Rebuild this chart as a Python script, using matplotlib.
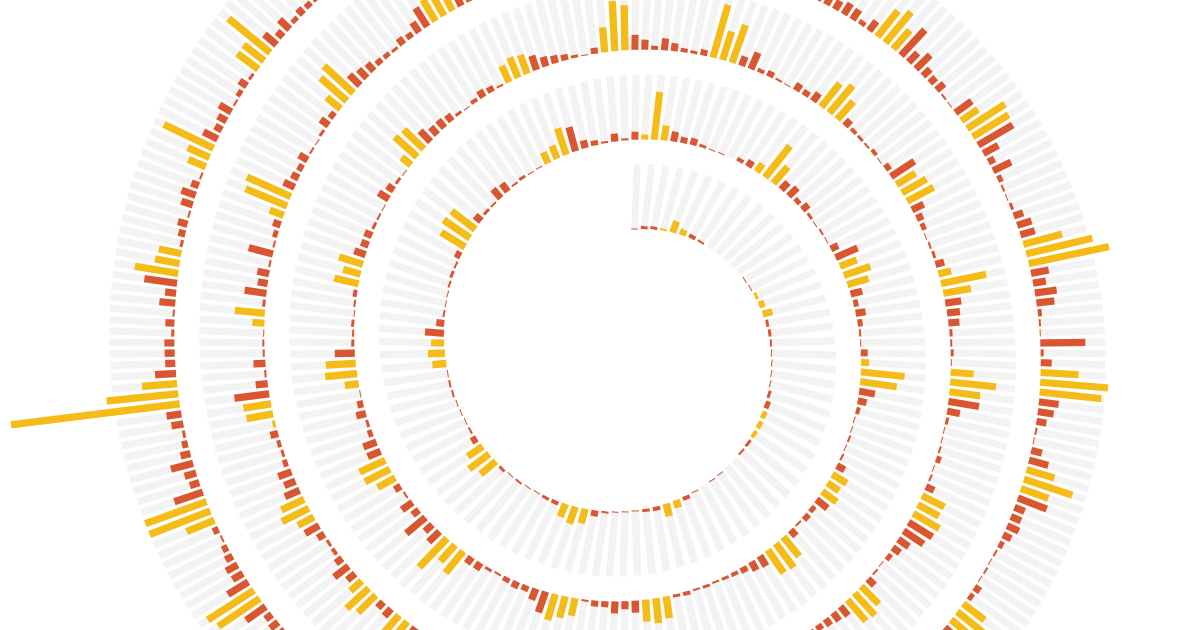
import numpy as np
import matplotlib
matplotlib.use("Agg")
import matplotlib.pyplot as plt
from matplotlib.collections import PolyCollection

# Spiral bar data: one list per turn, one string per 45-degree octant (clockwise from top).
# token = kind (r = red, y = yellow) + bar length in px
turn0 = [
    "r1 r3 r3 y2 y12 y6 r4 r2 r0 r0",
    "r0 r0 r0 r1 r1 y3 y6 y10 r3 r3 r2",
    "r1 r1 r1 r1 r3 r5 y5 y5 y4 r3 r2",
    "r0 r0 r1 r1 r0 r1 r4 y8 y13 r4 r3 r1",
    "r1 r1 r2 r6 y15 y18 y14 r4 r3 r1 r1 r2 r1",
    "r3 y20 y25 y18 r6 r2 r1 r1 r1 r2 r2 r1 y14 y17",
    "y13 r19 r8 r2 r1 r1 r2 r3 r2 r6 y28 y32 y30 r8 r3",
    "r2 r12 r10 r2 r3 r1 r1 y12 y14 y28 r25 r8 r5 r2 r8 r2",
]
turn1 = [
    "r8 y5 y48 y15 r10 r6 r7 r3 r1 r1 r0 r4 r7 y10 y40 y22 r10",
    "r12 r5 r8 r3 r1 r2 r1 r8 r24 y18 y28 y22 r12 r5 r10 r5 r2 r1",
    "r7 y8 y44 y37 r16 r9 r4 r1 r1 r2 r1 r2 r9 y17 y14 y18 r14 r5 r6",
    "r2 r8 y25 y30 y28 r12 r10 r6 r4 r3 r2 r3 r2 r4 r3 y22 y25 y22 r12",
    "r8 r12 r6 r6 r2 y18 y22 y27 r22 r12 r6 r7 r5 r2 r3 r8 r8 y28 y22 y40",
    "r15 r10 r25 r8 r13 r2 r7 y20 y28 y28 r14 r14 r5 r3 r10 r6 r1 y14 y32 y30 r20",
    "r3 r2 r3 r1 r2 r4 y25 y18 y25 r12 r8 r8 r3 r2 r1 r12 r8 r3 r1 y12 y30 y28",
    "r15 r10 r10 r8 r3 r1 r4 r8 r6 r2 y18 y22 y20 r15 r10 r8 r6 r3 r1 r6 y25 y50 y45",
]
turn2 = [
    "r15 r10 r4 r12 r8 r4 r3 r6 y55 y30 y40 r10 r18 r4 r6 r2 r1 r8 r6 r10 y30 y36 y24 r8",
    "r4 r3 r2 r4 r1 r6 r28 y22 y28 y30 r13 r7 r5 r1 r2 r3 r9 y13 y46 y28 r16 r13 r11 r3 r2",
    "r3 r1 y23 y46 y31 r31 r13 r3 r1 r1 r2 r5 r1 r2 r9 y25 y24 y30 r28 r24 r13 r9 r5 r1 r2 r9",
    "y25 y30 y28 r12 r10 r8 r6 r4 r3 r5 r2 r8 y15 y20 r6 r3 r2 r4 r6 r3 r5 y18 y22 r8 r4 r3 r2",
    "r8 r10 y22 y28 r12 r6 r3 r5 r2 r4 r10 y18 y20 r8 r3 r2 r5 r3 r6 r2 r4 r8 r12 y20 y25 r10 r8",
    "y25 y30 y15 r10 r18 r8 r4 r3 r8 r16 y18 y30 y25 r16 r12 r14 r5 r3 r4 r8 y3 y27 y28 r35 r12 r2 r12 r2",
    "r2 r1 y12 y30 r3 r22 r10 r12 r2 r25 r2 r5 r8 y15 y45 y48 r12 r8 r6 r10 r2 r1 r3 r10 r6 y18 y35 y40 r15",
    "r12 r10 r6 r5 r3 r8 r6 r12 r22 y25 y30 y28 r10 r8 r5 r3 r2 r3 r5 r4 r6 r3 r2 r5 r8 r3 r2 r4 r3 r5",
]
turn3 = [
    "r5 r8 r3 r10 y20 y25 r12 r6 r3 r2 r8 r4 r10 r6 r3 r2 r5 y18 y22 r15 r20 r10 r13 r12 r5 r12 y33 y40 y25 r35 r13",
    "r20 r10 r8 r10 r2 r1 r20 y20 y45 y42 r40 r17 r7 r20 r5 r2 r1 r3 r10 r15 r15 y40 y68 y82 r18 r13 r22 r18 r4 r2 r1 r45",
    "r3 r11 y38 y68 y62 r20 r16 r10 r2 r1 r11 r20 y29 y51 y29 r31 r11 r11 r13 r9 r5 r2 r1 r2 r1 r7 r5 y27 y47 y47 r24 r15 r16",
    "r13 r8 r5 y20 y25 r10 r6 r3 r2 r5 r3 r8 r12 y18 y22 y15 r6 r3 r2 r4 r6 r2 r3 r8 r10 y25 y30 r12 r5 r3 r2 r4 r3 r6",
    "r5 r3 r2 r4 r8 y20 y25 r10 r4 r3 r2 r5 r3 r6 r2 r3 r8 r12 y22 r6 r3 r2 r4 r3 r2 r6 r10 r8 r12 r5 r3 r8 y25 y30",
    "r3 r5 r2 r6 r4 r10 r8 r24 y50 y55 r24 r12 r13 r8 r6 r2 r6 y30 y65 y65 r30 r10 r12 r23 r10 r6 r3 r12 r15 y170 y72 y35 r21 r10 r10",
    "r10 r3 r9 r2 r16 r11 r33 y44 y25 y23 r3 r7 r10 r2 r12 r15 r8 r2 y19 y24 y55 r16 r8 r10 r14 r2 r5 r9 r3 y26 y26 y54 r16 r8 r14 r5",
    "r8 r6 r3 r5 r2 r8 y20 y25 r10 r4 r3 r2 r6 r3 r5 r8 r12 y22 y28 y18 r6 r3 r2 r4 r2 r5 r3 r8 r10 y15 r6 r3 r4 r2 r5 r3 r4",
]
turns = [turn0, turn1, turn2, turn3]

COL = {"r": "#D95630", "y": "#F5BC18"}
GRAY = "#F3F3F3"
CX, CY = 630.0, 348.0
R0, PITCH, GRAY_LEN = 118.0, 90.0, 65.0

def rect(theta, r, length, w):
    u = np.array([np.sin(theta), -np.cos(theta)])
    t = np.array([np.cos(theta), np.sin(theta)])
    c = np.array([CX, CY]) + u * r
    h = t * w / 2
    return [c - h, c + h, c + h + u * length, c - h + u * length]

grays, bars, cols = [], [], []
for k, turn in enumerate(turns):
    for j, octant in enumerate(turn):
        toks = octant.split()
        n = len(toks)
        for i, tok in enumerate(toks):
            frac = (j + (i + 0.5) / n) / 8.0
            theta = 2 * np.pi * frac
            r = R0 + PITCH * (k + frac)
            spacing = 2 * np.pi * r / 8.0 / n
            w = 0.72 * spacing
            grays.append(rect(theta, r, GRAY_LEN, w))
            L = float(tok[1:])
            if L > 0:
                bars.append(rect(theta, r, L, w))
                cols.append(COL[tok[0]])

fig = plt.figure(figsize=(12, 6.3), dpi=100)
ax = fig.add_axes([0, 0, 1, 1])
ax.set_xlim(0, 1200)
ax.set_ylim(630, 0)
ax.axis("off")
ax.add_collection(PolyCollection(grays, facecolors=GRAY, edgecolors="none"))
ax.add_collection(PolyCollection(bars, facecolors=cols, edgecolors="none"))
fig.savefig("out.png", dpi=100, facecolor="white")
